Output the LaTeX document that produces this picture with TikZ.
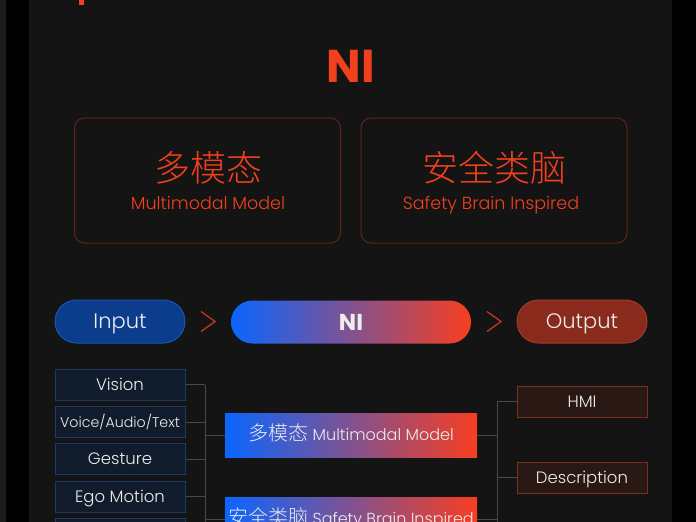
\documentclass[tikz,border=0pt]{standalone}
\usepackage{fontspec}
\setmainfont{Poppins}
\newfontfamily\light{Poppins Light}
\newfontfamily\cjk{Noto Sans CJK SC Light}
\definecolor{panel}{HTML}{141414}
\definecolor{edgegray}{HTML}{1C1C1C}
\definecolor{accent}{HTML}{F0401E}
\definecolor{boxedge}{HTML}{5E2418}
\definecolor{inblue}{HTML}{0B3D8C}
\definecolor{inblueedge}{HTML}{1A55B0}
\definecolor{outred}{HTML}{8A2A1C}
\definecolor{outrededge}{HTML}{A33A28}
\definecolor{chev}{HTML}{C0391F}
\definecolor{listfill}{HTML}{101C2B}
\definecolor{listedge}{HTML}{1C3A66}
\definecolor{rfill}{HTML}{2A1814}
\definecolor{redge}{HTML}{7A2E1E}
\definecolor{wire}{HTML}{4A4A4A}
\definecolor{gblue}{HTML}{0A66FF}
\definecolor{gred}{HTML}{F83E20}
\definecolor{txt}{HTML}{EDEDED}
\begin{document}
\begin{tikzpicture}[x=1pt,y=-1pt,
  bigbox/.style={draw=boxedge, line width=1pt, rounded corners=10pt, minimum width=266pt, minimum height=125pt, inner sep=0pt},
  cnbig/.style={text=accent, font=\cjk\fontsize{36}{36}\selectfont, inner sep=0pt},
  enbig/.style={text=accent, font=\light\fontsize{17.5}{17.5}\selectfont, inner sep=0pt, text height=12.3pt, text depth=0pt},
  pill/.style={minimum width=#1, minimum height=43pt, rounded corners=21.5pt, inner sep=0pt, text=txt, font=\light\fontsize{21}{21}\selectfont, text height=14.7pt, text depth=0pt, line width=1pt},
  chevron/.style={draw=chev, line width=1.3pt},
  inbox/.style={draw=listedge, fill=listfill, line width=1pt, minimum width=130pt, minimum height=31pt, inner sep=0pt, text=txt, font=\light\fontsize{16.5}{16.5}\selectfont, text height=11.5pt, text depth=0pt},
  outbox/.style={draw=redge, fill=rfill, line width=1pt, minimum width=130pt, minimum height=31pt, inner sep=0pt, text=txt, font=\light\fontsize{16.5}{16.5}\selectfont, text height=11.5pt, text depth=0pt},
  bar/.style={left color=gblue, right color=gred, minimum width=252pt, minimum height=44pt, inner sep=0pt, text=txt, font=\light\fontsize{16}{16}\selectfont, text height=11.5pt, text depth=0pt},
  wirestyle/.style={draw=wire, line width=1pt}
]
\useasboundingbox (0,0) rectangle (696,522);
\clip (0,0) rectangle (696,522);
% background
\fill[edgegray] (0,0) rectangle (6,522);
\fill[black] (6,0) rectangle (29,522);
\fill[panel] (29,0) rectangle (672,522);
\fill[black] (672,0) rectangle (696,522);
% top red marker
\fill[accent] (79,0) rectangle (84,5);

% title
\node[text=accent, font=\bfseries\fontsize{46}{46}\selectfont, inner sep=0pt] (title) at (351,66) {NI};

% feature boxes
\node[bigbox] (boxa) at (207.5,180.5) {};
\node[cnbig] (boxacn) at (208,167.5) {多模态};
\node[enbig] (boxaen) at (208,203) {Multimodal Model};
\node[bigbox] (boxb) at (494,180.5) {};
\node[cnbig] (boxbcn) at (494,167.5) {安全类脑};
\node[enbig] (boxben) at (491,203) {Safety Brain Inspired};

% pipeline row
\node[pill=130pt, fill=inblue, draw=inblueedge] (input) at (120,321.5) {Input};
\node[pill=240pt, left color=gblue, right color=gred, font=\bfseries\fontsize{23}{23}\selectfont, text height=16pt] (ni) at (351,322) {NI};
\node[pill=130pt, fill=outred, draw=outrededge] (output) at (582,321.5) {Output};
\coordinate (c1) at (208,321.5);
\draw[chevron] ([shift={(-7pt,-10pt)}]c1) -- ([shift={(7pt,0pt)}]c1) -- ([shift={(-7pt,10pt)}]c1);
\coordinate (c2) at (494,321.5);
\draw[chevron] ([shift={(-7pt,-10pt)}]c2) -- ([shift={(7pt,0pt)}]c2) -- ([shift={(-7pt,10pt)}]c2);

% inputs
\node[inbox] (vision) at (120,384.5) {Vision};
\node[inbox, font=\light\fontsize{14.2}{14.2}\selectfont] (voice) at (120,422) {Voice/Audio/Text};
\node[inbox] (gesture) at (120,459) {Gesture};
\node[inbox] (ego) at (120,496.5) {Ego Motion};
\node[inbox] (more) at (120,534) {};

% middle bars
\node[bar] (mm) at (351,435) {{\cjk\fontsize{20}{20}\selectfont 多模态} Multimodal Model};
\node[bar] (sb) at (351,519) {{\cjk\fontsize{20}{20}\selectfont 安全类脑} Safety Brain Inspired};

% outputs
\node[outbox] (hmi) at (582,401.5) {HMI};
\node[outbox] (desc) at (582,477.5) {Description};

% left wiring
\coordinate (lbus) at (205,384.5);
\coordinate (lbusend) at (205,540);
\draw[wirestyle] (lbus) -- (lbusend);
\foreach \n in {vision,voice,gesture,ego,more}{
  \draw[wirestyle] (\n.east) -- (\n.east -| lbus);
}
\draw[wirestyle] (mm.west -| lbus) -- (mm.west);
\draw[wirestyle] (sb.west -| lbus) -- (sb.west);

% right wiring
\coordinate (rbus) at (497,401.5);
\coordinate (rbusend) at (497,540);
\draw[wirestyle] (rbus) -- (rbusend);
\draw[wirestyle] (mm.east) -- (mm.east -| rbus);
\draw[wirestyle] (sb.east) -- (sb.east -| rbus);
\draw[wirestyle] (hmi.west -| rbus) -- (hmi.west);
\draw[wirestyle] (desc.west -| rbus) -- (desc.west);
\end{tikzpicture}
\end{document}
